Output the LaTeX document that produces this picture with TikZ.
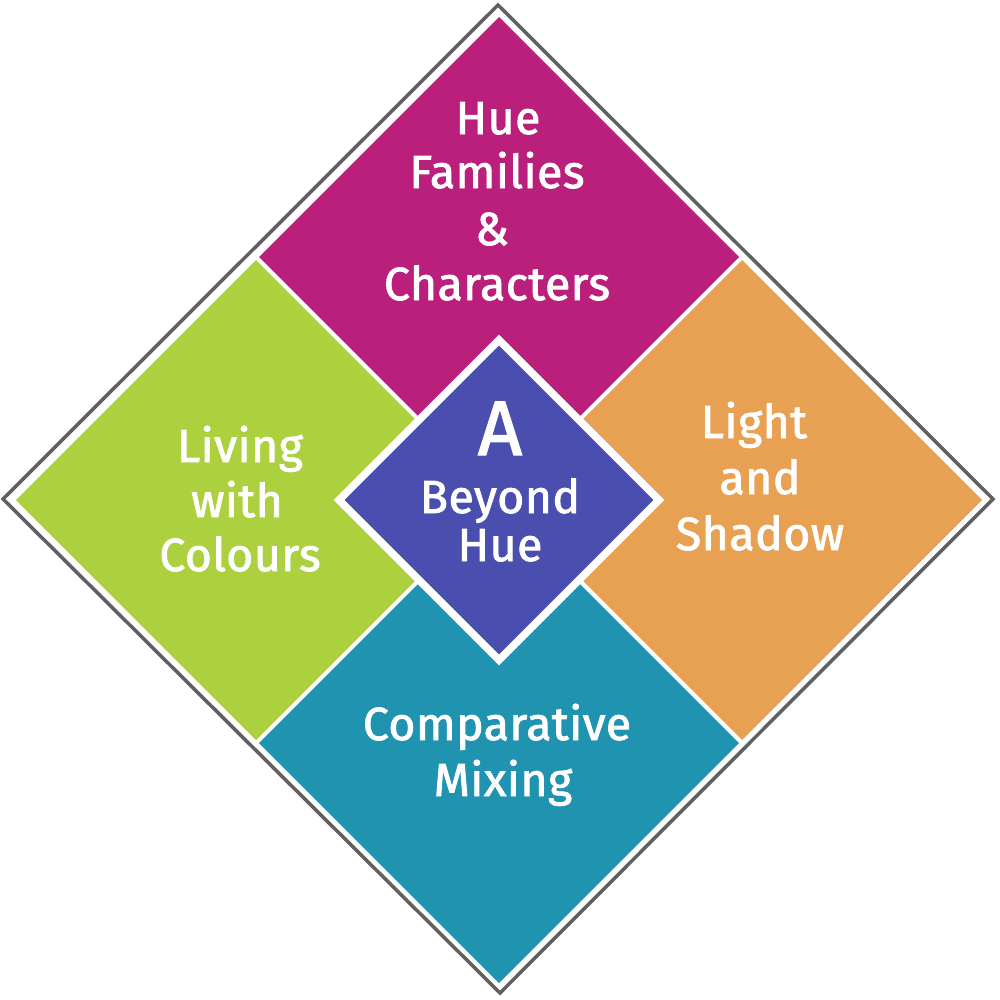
\documentclass[tikz,border=0pt]{standalone}
\usepackage{fontspec}
\setmainfont{Fira Sans}
\newfontfamily\lblfont{Fira Sans}[FakeBold=1.8,LetterSpace=1]
\definecolor{cmag}{HTML}{BB1F7C}
\definecolor{cgreen}{HTML}{ADD03F}
\definecolor{corange}{HTML}{E8A052}
\definecolor{cteal}{HTML}{1F93B0}
\definecolor{cpurple}{HTML}{4A4FAF}
\definecolor{cgray}{HTML}{606060}
\begin{document}
\begin{tikzpicture}[x=0.01cm,y=-0.01cm,
  lbl/.style={text=white,inner sep=0pt,anchor=base,font=\lblfont\fontsize{13.2}{16}\selectfont},
  big/.style={text=white,inner sep=0pt,anchor=base,font=\lblfont\fontsize{22}{26}\selectfont}]
\useasboundingbox[fill=white] (0,0) rectangle (1000,1000);
% outer outline
\draw[cgray,line width=1pt,line join=miter] (498,5) -- (993,499) -- (500,993) -- (3,499) -- cycle;
% four diamonds
\fill[cmag]    (499,17)  -- (739,257) -- (499,497) -- (259,257) -- cycle;
\fill[cgreen]  (16,500)  -- (256,260) -- (496,500) -- (256,740) -- cycle;
\fill[corange] (982,500) -- (742,260) -- (502,500) -- (742,740) -- cycle;
\fill[cteal]   (499,983) -- (739,743) -- (499,503) -- (259,743) -- cycle;
% centre diamond
\filldraw[fill=cpurple,draw=white,line width=2.2pt,line join=miter] (499,340) -- (659,500) -- (499,660) -- (339,500) -- cycle;
% labels
\node[lbl] (m1) at (498,134) {Hue};
\node[lbl] (m2) at (497,188) {Families};
\node[lbl] (m3) at (492,245) {\&};
\node[lbl] (m4) at (497,300) {Characters};
\node[lbl] (g1) at (240,462) {Living};
\node[lbl] (g2) at (237,517) {with};
\node[lbl] (g3) at (240,571) {Colours};
\node[lbl] (o1) at (754,438) {Light};
\node[lbl] (o2) at (760,494) {and};
\node[lbl] (o3) at (760,550) {Shadow};
\node[lbl] (t1) at (497,740) {Comparative};
\node[lbl] (t2) at (503,796) {Mixing};
\node[big] (c0) at (500,455) {A};
\node[lbl] (c1) at (500,513) {Beyond};
\node[lbl] (c2) at (500,561) {Hue};
\end{tikzpicture}
\end{document}
